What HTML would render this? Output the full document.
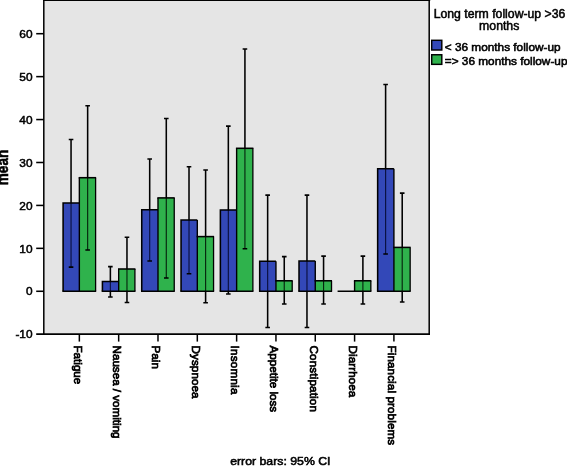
<!DOCTYPE html>
<html><head><meta charset="utf-8"><title>chart</title>
<style>
html,body{margin:0;padding:0;background:#fff;}
svg{display:block;}
text{font-family:"Liberation Sans",sans-serif;fill:#000;stroke:#000;stroke-width:0.42px;}
</style></head><body>
<svg width="567" height="466" viewBox="0 0 567 466">
<rect x="0" y="0" width="567" height="466" fill="#fff"/>
<rect x="43.8" y="0" width="385.7" height="333.6" fill="#e5e5e5"/>

<rect x="63.10" y="202.90" width="16.25" height="88.40" fill="#3348b8"/>
<rect x="79.35" y="177.70" width="16.25" height="113.60" fill="#2fb24c"/>
<path d="M71.05 202.90V267.10" stroke="#0a1040" stroke-width="1.15" fill="none"/>
<path d="M71.05 139.40V202.90M68.75 139.40H73.35M68.75 267.10H73.35" stroke="#000" stroke-width="1.55" fill="none"/>
<path d="M87.65 177.70V250.00" stroke="#06260e" stroke-width="1.15" fill="none"/>
<path d="M87.65 105.80V177.70M85.35 105.80H89.95M85.35 250.00H89.95" stroke="#000" stroke-width="1.55" fill="none"/>
<path d="M63.10 291.30V202.90H79.35" stroke="#000" stroke-width="1.55" fill="none" stroke-linejoin="miter"/>
<path d="M79.35 291.30V177.70" stroke="#000" stroke-width="1.4" fill="none"/>
<path d="M78.65 177.70H96.10" stroke="#000" stroke-width="1.55" fill="none"/>
<path d="M95.60 177.70V291.30" stroke="#000" stroke-width="1.3" fill="none"/>
<path d="M62.35 291.30H96.15" stroke="#000" stroke-width="1.55" fill="none"/>
<rect x="102.42" y="281.40" width="16.25" height="9.90" fill="#3348b8"/>
<rect x="118.67" y="269.00" width="16.25" height="22.30" fill="#2fb24c"/>
<path d="M110.37 281.40V291.30" stroke="#0a1040" stroke-width="1.15" fill="none"/>
<path d="M110.37 266.60V281.40M110.37 291.30V296.90M108.07 266.60H112.67M108.07 296.90H112.67" stroke="#000" stroke-width="1.55" fill="none"/>
<path d="M126.97 269.00V291.30" stroke="#06260e" stroke-width="1.15" fill="none"/>
<path d="M126.97 237.20V269.00M126.97 291.30V302.40M124.67 237.20H129.27M124.67 302.40H129.27" stroke="#000" stroke-width="1.55" fill="none"/>
<path d="M102.42 291.30V281.40H118.67" stroke="#000" stroke-width="1.55" fill="none" stroke-linejoin="miter"/>
<path d="M118.67 291.30V269.00" stroke="#000" stroke-width="1.4" fill="none"/>
<path d="M117.97 269.00H135.42" stroke="#000" stroke-width="1.55" fill="none"/>
<path d="M134.92 269.00V291.30" stroke="#000" stroke-width="1.3" fill="none"/>
<path d="M101.67 291.30H135.47" stroke="#000" stroke-width="1.55" fill="none"/>
<rect x="141.74" y="209.80" width="16.25" height="81.50" fill="#3348b8"/>
<rect x="157.99" y="197.90" width="16.25" height="93.40" fill="#2fb24c"/>
<path d="M149.69 209.80V260.90" stroke="#0a1040" stroke-width="1.15" fill="none"/>
<path d="M149.69 158.90V209.80M147.39 158.90H151.99M147.39 260.90H151.99" stroke="#000" stroke-width="1.55" fill="none"/>
<path d="M166.29 197.90V277.90" stroke="#06260e" stroke-width="1.15" fill="none"/>
<path d="M166.29 118.40V197.90M163.99 118.40H168.59M163.99 277.90H168.59" stroke="#000" stroke-width="1.55" fill="none"/>
<path d="M141.74 291.30V209.80H157.99" stroke="#000" stroke-width="1.55" fill="none" stroke-linejoin="miter"/>
<path d="M157.99 291.30V197.90" stroke="#000" stroke-width="1.4" fill="none"/>
<path d="M157.29 197.90H174.74" stroke="#000" stroke-width="1.55" fill="none"/>
<path d="M174.24 197.90V291.30" stroke="#000" stroke-width="1.3" fill="none"/>
<path d="M140.99 291.30H174.79" stroke="#000" stroke-width="1.55" fill="none"/>
<rect x="181.06" y="220.00" width="16.25" height="71.30" fill="#3348b8"/>
<rect x="197.31" y="236.60" width="16.25" height="54.70" fill="#2fb24c"/>
<path d="M189.01 220.00V273.80" stroke="#0a1040" stroke-width="1.15" fill="none"/>
<path d="M189.01 166.70V220.00M186.71 166.70H191.31M186.71 273.80H191.31" stroke="#000" stroke-width="1.55" fill="none"/>
<path d="M205.61 236.60V291.30" stroke="#06260e" stroke-width="1.15" fill="none"/>
<path d="M205.61 169.90V236.60M205.61 291.30V302.70M203.31 169.90H207.91M203.31 302.70H207.91" stroke="#000" stroke-width="1.55" fill="none"/>
<path d="M181.06 291.30V220.00H197.31" stroke="#000" stroke-width="1.55" fill="none" stroke-linejoin="miter"/>
<path d="M197.31 291.30V220.00" stroke="#000" stroke-width="1.4" fill="none"/>
<path d="M196.61 236.60H214.06" stroke="#000" stroke-width="1.55" fill="none"/>
<path d="M213.56 236.60V291.30" stroke="#000" stroke-width="1.3" fill="none"/>
<path d="M180.31 291.30H214.11" stroke="#000" stroke-width="1.55" fill="none"/>
<rect x="220.38" y="209.90" width="16.25" height="81.40" fill="#3348b8"/>
<rect x="236.63" y="148.30" width="16.25" height="143.00" fill="#2fb24c"/>
<path d="M228.33 209.90V291.30" stroke="#0a1040" stroke-width="1.15" fill="none"/>
<path d="M228.33 126.10V209.90M228.33 291.30V293.90M226.03 126.10H230.63M226.03 293.90H230.63" stroke="#000" stroke-width="1.55" fill="none"/>
<path d="M244.93 148.30V248.70" stroke="#06260e" stroke-width="1.15" fill="none"/>
<path d="M244.93 49.00V148.30M242.63 49.00H247.23M242.63 248.70H247.23" stroke="#000" stroke-width="1.55" fill="none"/>
<path d="M220.38 291.30V209.90H236.63" stroke="#000" stroke-width="1.55" fill="none" stroke-linejoin="miter"/>
<path d="M236.63 291.30V148.30" stroke="#000" stroke-width="1.4" fill="none"/>
<path d="M235.93 148.30H253.38" stroke="#000" stroke-width="1.55" fill="none"/>
<path d="M252.88 148.30V291.30" stroke="#000" stroke-width="1.3" fill="none"/>
<path d="M219.63 291.30H253.43" stroke="#000" stroke-width="1.55" fill="none"/>
<rect x="259.70" y="261.30" width="16.25" height="30.00" fill="#3348b8"/>
<rect x="275.95" y="280.80" width="16.25" height="10.50" fill="#2fb24c"/>
<path d="M267.65 261.30V291.30" stroke="#0a1040" stroke-width="1.15" fill="none"/>
<path d="M267.65 195.10V261.30M267.65 291.30V327.40M265.35 195.10H269.95M265.35 327.40H269.95" stroke="#000" stroke-width="1.55" fill="none"/>
<path d="M284.25 280.80V291.30" stroke="#06260e" stroke-width="1.15" fill="none"/>
<path d="M284.25 256.60V280.80M284.25 291.30V304.00M281.95 256.60H286.55M281.95 304.00H286.55" stroke="#000" stroke-width="1.55" fill="none"/>
<path d="M259.70 291.30V261.30H275.95" stroke="#000" stroke-width="1.55" fill="none" stroke-linejoin="miter"/>
<path d="M275.95 291.30V261.30" stroke="#000" stroke-width="1.4" fill="none"/>
<path d="M275.25 280.80H292.70" stroke="#000" stroke-width="1.55" fill="none"/>
<path d="M292.20 280.80V291.30" stroke="#000" stroke-width="1.3" fill="none"/>
<path d="M258.95 291.30H292.75" stroke="#000" stroke-width="1.55" fill="none"/>
<rect x="299.02" y="261.00" width="16.25" height="30.30" fill="#3348b8"/>
<rect x="315.27" y="280.80" width="16.25" height="10.50" fill="#2fb24c"/>
<path d="M306.97 261.00V291.30" stroke="#0a1040" stroke-width="1.15" fill="none"/>
<path d="M306.97 195.10V261.00M306.97 291.30V327.40M304.67 195.10H309.27M304.67 327.40H309.27" stroke="#000" stroke-width="1.55" fill="none"/>
<path d="M323.57 280.80V291.30" stroke="#06260e" stroke-width="1.15" fill="none"/>
<path d="M323.57 256.10V280.80M323.57 291.30V304.00M321.27 256.10H325.87M321.27 304.00H325.87" stroke="#000" stroke-width="1.55" fill="none"/>
<path d="M299.02 291.30V261.00H315.27" stroke="#000" stroke-width="1.55" fill="none" stroke-linejoin="miter"/>
<path d="M315.27 291.30V261.00" stroke="#000" stroke-width="1.4" fill="none"/>
<path d="M314.57 280.80H332.02" stroke="#000" stroke-width="1.55" fill="none"/>
<path d="M331.52 280.80V291.30" stroke="#000" stroke-width="1.3" fill="none"/>
<path d="M298.27 291.30H332.07" stroke="#000" stroke-width="1.55" fill="none"/>
<rect x="354.59" y="280.80" width="16.25" height="10.50" fill="#2fb24c"/>
<path d="M362.89 280.80V291.30" stroke="#06260e" stroke-width="1.15" fill="none"/>
<path d="M362.89 256.10V280.80M362.89 291.30V304.00M360.59 256.10H365.19M360.59 304.00H365.19" stroke="#000" stroke-width="1.55" fill="none"/>
<path d="M354.59 291.30V280.80" stroke="#000" stroke-width="1.4" fill="none"/>
<path d="M353.89 280.80H371.34" stroke="#000" stroke-width="1.55" fill="none"/>
<path d="M370.84 280.80V291.30" stroke="#000" stroke-width="1.3" fill="none"/>
<path d="M337.59 291.30H371.39" stroke="#000" stroke-width="1.55" fill="none"/>
<rect x="377.66" y="168.80" width="16.25" height="122.50" fill="#3348b8"/>
<rect x="393.91" y="247.40" width="16.25" height="43.90" fill="#2fb24c"/>
<path d="M385.61 168.80V253.90" stroke="#0a1040" stroke-width="1.15" fill="none"/>
<path d="M385.61 84.40V168.80M383.31 84.40H387.91M383.31 253.90H387.91" stroke="#000" stroke-width="1.55" fill="none"/>
<path d="M402.21 247.40V291.30" stroke="#06260e" stroke-width="1.15" fill="none"/>
<path d="M402.21 193.10V247.40M402.21 291.30V302.00M399.91 193.10H404.51M399.91 302.00H404.51" stroke="#000" stroke-width="1.55" fill="none"/>
<path d="M377.66 291.30V168.80H393.91" stroke="#000" stroke-width="1.55" fill="none" stroke-linejoin="miter"/>
<path d="M393.91 291.30V168.80" stroke="#000" stroke-width="1.4" fill="none"/>
<path d="M393.21 247.40H410.66" stroke="#000" stroke-width="1.55" fill="none"/>
<path d="M410.16 247.40V291.30" stroke="#000" stroke-width="1.3" fill="none"/>
<path d="M376.91 291.30H410.71" stroke="#000" stroke-width="1.55" fill="none"/>
<path d="M43.2 0.4H430.2" stroke="#000" stroke-width="1.1" fill="none"/>
<path d="M43.8 0V334.8M429.2 0V334.8" stroke="#000" stroke-width="1.5" fill="none"/>
<path d="M36.2 334.15H430" stroke="#000" stroke-width="1.7" fill="none"/>
<path d="M36.2 33.70H44" stroke="#000" stroke-width="1.55"/>
<text transform="translate(32.6 37.90) scale(1.045 1)" font-size="11.4" text-anchor="end" style="stroke-width:0.5px">60</text>
<path d="M36.2 76.63H44" stroke="#000" stroke-width="1.55"/>
<text transform="translate(32.6 80.83) scale(1.045 1)" font-size="11.4" text-anchor="end" style="stroke-width:0.5px">50</text>
<path d="M36.2 119.56H44" stroke="#000" stroke-width="1.55"/>
<text transform="translate(32.6 123.76) scale(1.045 1)" font-size="11.4" text-anchor="end" style="stroke-width:0.5px">40</text>
<path d="M36.2 162.49H44" stroke="#000" stroke-width="1.55"/>
<text transform="translate(32.6 166.69) scale(1.045 1)" font-size="11.4" text-anchor="end" style="stroke-width:0.5px">30</text>
<path d="M36.2 205.42H44" stroke="#000" stroke-width="1.55"/>
<text transform="translate(32.6 209.62) scale(1.045 1)" font-size="11.4" text-anchor="end" style="stroke-width:0.5px">20</text>
<path d="M36.2 248.35H44" stroke="#000" stroke-width="1.55"/>
<text transform="translate(32.6 252.55) scale(1.045 1)" font-size="11.4" text-anchor="end" style="stroke-width:0.5px">10</text>
<path d="M36.2 291.28H44" stroke="#000" stroke-width="1.55"/>
<text transform="translate(32.6 295.48) scale(1.045 1)" font-size="11.4" text-anchor="end" style="stroke-width:0.5px">0</text>
<text transform="translate(32.6 338.41) scale(1.045 1)" font-size="11.4" text-anchor="end" style="stroke-width:0.5px">-10</text>
<path d="M79.35 334V341.6" stroke="#000" stroke-width="1.5"/>
<text transform="translate(73.75 345.5) rotate(90)" font-size="11.65" textLength="38.8" lengthAdjust="spacing" style="stroke-width:0.75px">Fatigue</text>
<path d="M118.67 334V341.6" stroke="#000" stroke-width="1.5"/>
<text transform="translate(113.07 345.5) rotate(90)" font-size="11.65" textLength="93.1" lengthAdjust="spacing" style="stroke-width:0.75px">Nausea / vomiting</text>
<path d="M157.99 334V341.6" stroke="#000" stroke-width="1.5"/>
<text transform="translate(152.39 345.5) rotate(90)" font-size="11.65" textLength="23.4" lengthAdjust="spacing" style="stroke-width:0.75px">Pain</text>
<path d="M197.31 334V341.6" stroke="#000" stroke-width="1.5"/>
<text transform="translate(191.71 345.5) rotate(90)" font-size="11.65" textLength="53.1" lengthAdjust="spacing" style="stroke-width:0.75px">Dyspnoea</text>
<path d="M236.63 334V341.6" stroke="#000" stroke-width="1.5"/>
<text transform="translate(231.03 345.5) rotate(90)" font-size="11.65" textLength="48.9" lengthAdjust="spacing" style="stroke-width:0.75px">Insomnia</text>
<path d="M275.95 334V341.6" stroke="#000" stroke-width="1.5"/>
<text transform="translate(270.35 345.5) rotate(90)" font-size="11.65" textLength="66.6" lengthAdjust="spacing" style="stroke-width:0.75px">Appetite loss</text>
<path d="M315.27 334V341.6" stroke="#000" stroke-width="1.5"/>
<text transform="translate(309.67 345.5) rotate(90)" font-size="11.65" textLength="66.4" lengthAdjust="spacing" style="stroke-width:0.75px">Constipation</text>
<path d="M354.59 334V341.6" stroke="#000" stroke-width="1.5"/>
<text transform="translate(348.99 345.5) rotate(90)" font-size="11.65" textLength="51.8" lengthAdjust="spacing" style="stroke-width:0.75px">Diarrhoea</text>
<path d="M393.91 334V341.6" stroke="#000" stroke-width="1.5"/>
<text transform="translate(388.31 345.5) rotate(90)" font-size="11.65" textLength="99.6" lengthAdjust="spacing" style="stroke-width:0.75px">Financial problems</text>
<text transform="translate(8.0 167.5) rotate(-90) scale(0.845 1)" font-size="16" font-weight="bold" style="stroke-width:0.6px" text-anchor="middle">mean</text>
<text transform="translate(499.5 17.7) scale(1.013 1)" font-size="12.1" text-anchor="middle" style="stroke-width:0.5px">Long term follow-up &gt;36</text>
<text transform="translate(499.2 29.9) scale(1.005 1)" font-size="12.2" text-anchor="middle" style="stroke-width:0.5px">months</text>
<rect x="431.7" y="40.3" width="10.1" height="9.7" fill="#3348b8" stroke="#000" stroke-width="1.45"/>
<rect x="431.7" y="54.75" width="10.1" height="9.6" fill="#2fb24c" stroke="#000" stroke-width="1.45"/>
<text transform="translate(444.8 50.7) scale(1.045 1)" font-size="11.3" style="stroke-width:0.55px">&lt; 36 months follow-up</text>
<text transform="translate(444.8 65.3) scale(1.045 1)" font-size="11.3" style="stroke-width:0.55px">=&gt; 36 months follow-up</text>
<text transform="translate(230.2 465) scale(1.06 1)" font-size="11.6" style="stroke-width:0.55px">error bars: 95% CI</text>
</svg></body></html>
